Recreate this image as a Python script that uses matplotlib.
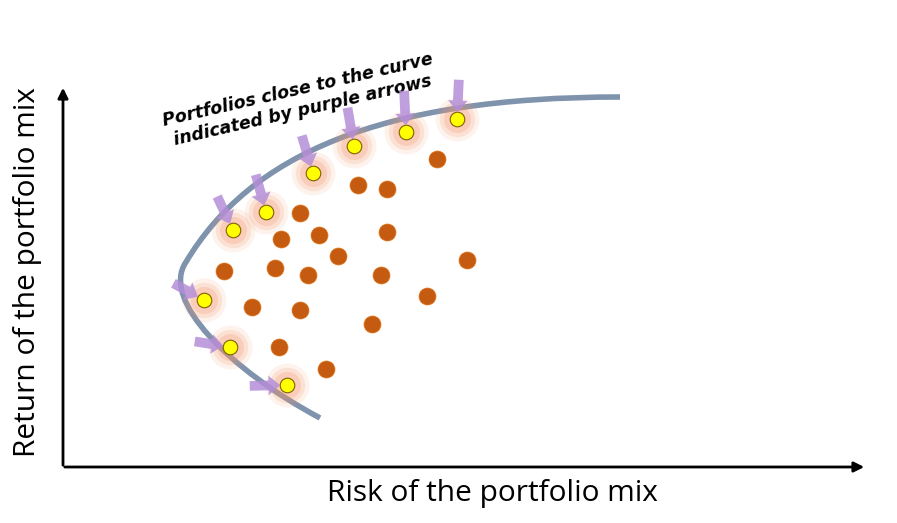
import numpy as np
import matplotlib.pyplot as plt
from matplotlib.path import Path
from matplotlib.patches import PathPatch

# positions (pixel space, y downwards)
other_x = [437, 358, 387, 300, 281, 319, 387, 224, 275, 308, 338, 381, 467, 252, 300, 427, 372, 279, 326]
other_y = [159, 185, 189, 213, 239, 235, 232, 271, 268, 275, 256, 275, 260, 307, 310, 296, 324, 347, 369]
near_x = [233, 266, 313, 354, 406, 457, 204, 230, 287]
near_y = [230, 212, 173, 146, 132, 119, 300, 347, 385]
arrow_start = [(216, 194), (255, 172), (301, 133), (347, 105), (404, 88), (459, 77), (171, 282), (192, 341), (247, 386)]
curve_pts = [(320, 418), (230, 370), (160, 300), (186, 262), (250, 155), (380, 97), (620, 97)]

fig = plt.figure(figsize=(8.97, 5.23), dpi=100)
ax = fig.add_axes([0, 0, 1, 1])
ax.set_xlim(0, 897)
ax.set_ylim(523, 0)
ax.axis('off')

# frontier curve
codes = [Path.MOVETO] + [Path.CURVE4] * 6
ax.add_patch(PathPatch(Path(curve_pts, codes), fill=False, edgecolor='#7f93ad', lw=4, zorder=2))

# axes arrows
ax.annotate('', xy=(63, 85), xytext=(63, 468),
            arrowprops=dict(arrowstyle='-|>', color='black', lw=2, mutation_scale=15))
ax.annotate('', xy=(867, 467), xytext=(62, 467),
            arrowprops=dict(arrowstyle='-|>', color='black', lw=2, mutation_scale=15))

# points
ax.scatter(other_x, other_y, s=150, color='#c55a11', edgecolor='#e07b20', lw=0.5, zorder=3)
for s, a in [(1000, 0.12), (650, 0.18), (380, 0.25)]:
    ax.scatter(near_x, near_y, s=s, color='#f4956a', alpha=a, lw=0, zorder=3)
ax.scatter(near_x, near_y, s=110, color='#ffff00', edgecolor='#7f6000', lw=0.8, zorder=4)

# purple arrows
for (sx, sy), ex, ey in zip(arrow_start, near_x, near_y):
    d = np.hypot(ex - sx, ey - sy)
    tx, ty = ex - (ex - sx) / d * 4, ey - (ey - sy) / d * 4
    ax.annotate('', xy=(tx, ty), xytext=(sx, sy),
                arrowprops=dict(arrowstyle='simple,head_width=1.0,head_length=0.6,tail_width=0.5',
                                color='#b48ed8', alpha=0.85, lw=0, mutation_scale=14), zorder=5)

ax.text(300, 100, 'Portfolios close to the curve\nindicated by purple arrows', rotation=13,
        ha='center', va='center', fontsize=12.5, fontstyle='italic', fontweight='bold',
        family='Liberation Sans Narrow', linespacing=1.2)
ax.text(492, 494, 'Risk of the portfolio mix', ha='center', va='center', fontsize=21.5, family='Open Sans')
ax.text(28, 272, 'Return of the portfolio mix', ha='center', va='center', rotation=90,
        fontsize=21.5, family='Open Sans')

fig.savefig('out.png', dpi=100)
